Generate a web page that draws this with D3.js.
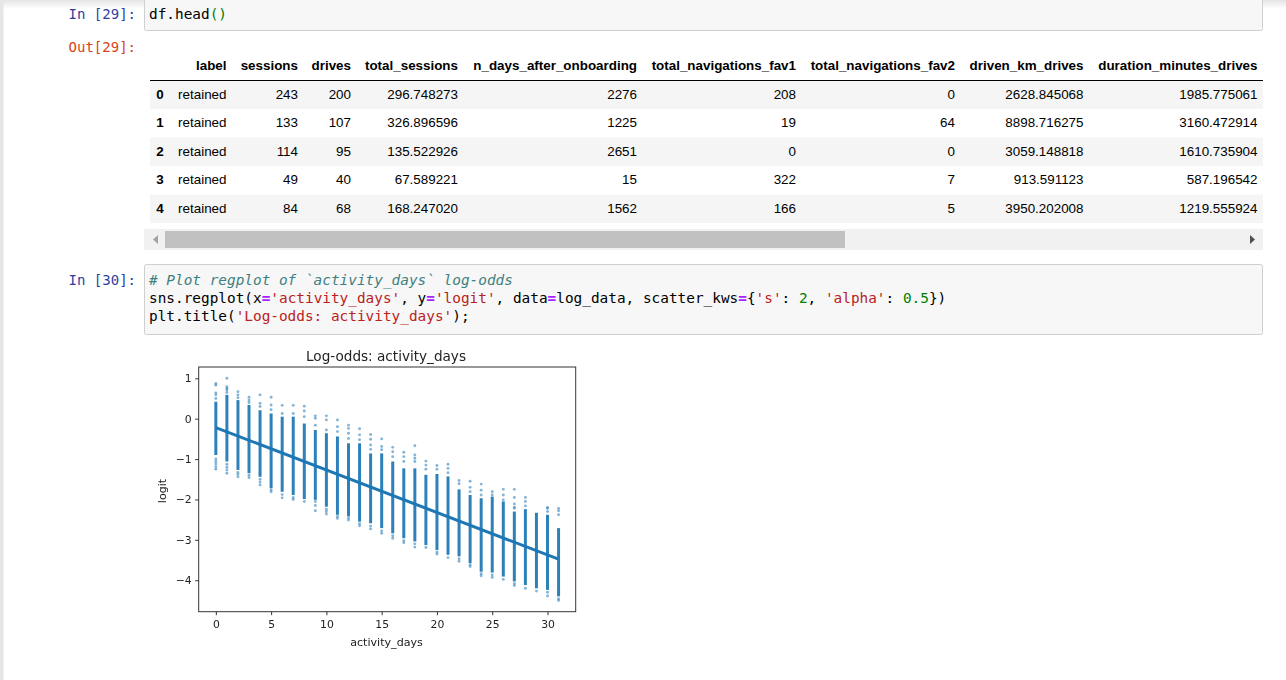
<!DOCTYPE html>
<html><head><meta charset="utf-8">
<script src="https://cdn.jsdelivr.net/npm/d3@7"></script>
<style>html,body{margin:0;padding:0;background:#fff;overflow:hidden}svg{display:block}</style>
</head><body><svg id="page" width="1286" height="680"></svg>
<script>
// ---- table data
const tableColumns=["label","sessions","drives","total_sessions","n_days_after_onboarding","total_navigations_fav1","total_navigations_fav2","driven_km_drives","duration_minutes_drives"];
const rowIndex=["0","1","2","3","4"];
const label=["retained","retained","retained","retained","retained"];
const sessions=["243","133","114","49","84"];
const drives=["200","107","95","40","68"];
const totalSessions=["296.748273","326.896596","135.522926","67.589221","168.247020"];
const nDays=["2276","1225","2651","15","1562"];
const fav1=["208","19","0","322","166"];
const fav2=["0","64","0","7","5"];
const drivenKm=["2628.845068","8898.716275","3059.148818","913.591123","3950.202008"];
const durationMin=["1985.775061","3160.472914","1610.735904","587.196542","1219.555924"];
// ---- plot data
const activityDays=d3.range(32);
const denseTop=[.42,.59,.46,.34,.21,.13,.05,.05,-.12,-.28,-.36,-.44,-.61,-.61,-.86,-.86,-1.06,-1.23,-1.23,-1.39,-1.37,-1.43,-1.75,-1.89,-1.97,-1.93,-2.05,-2.30,-2.24,-2.33,-2.38,-2.71];
const denseBottom=[-.9,-1.06,-1.27,-1.35,-1.44,-1.72,-1.81,-1.89,-1.99,-2.01,-2.18,-2.38,-2.42,-2.55,-2.59,-2.71,-2.84,-2.96,-3.04,-3.13,-3.25,-3.37,-3.41,-3.58,-3.79,-3.81,-3.91,-4.03,-4.12,-4.2,-4.24,-4.40];
const looseValues=[
 [.87,.83,.64,.59,.5,-1.0,-1.06,-1.12,-1.19,-1.25],
 [1.0,.79,.75,.71,.65,-1.13,-1.2,-1.27,-1.35],
 [.67,.59,.52,-1.33,-1.38,-1.44],
 [.53,.46,.4,-1.4,-1.46],
 [.59,.38,.3,-1.5,-1.57,-1.64],
 [.53,.34,.22,-1.76,-1.81],
 [.33,.13,-1.88,-1.96],
 [.33,.13,-1.95,-2.0],
 [.31,.19,.05,-2.05],
 [.07,.01,-.16,-2.05,-2.15,-2.28],
 [.07,-.03,-.28,-2.24,-2.3,-2.36],
 [-.03,-.20,-.32,-2.42,-2.47],
 [-.16,-.24,-.36,-.49,-2.46,-2.51],
 [-.25,-.40,-.52,-2.6,-2.65],
 [-.39,-.51,-.65,-.76,-2.66,-2.73],
 [-.50,-.69,-.77,-2.78,-2.84],
 [-.71,-.82,-.94,-2.9,-2.96],
 [-.83,-.94,-1.06,-3.02,-3.07],
 [-.67,-.90,-.98,-1.06,-3.1,-3.18],
 [-1.05,-1.15,-1.25,-3.19],
 [-1.16,-1.25,-3.3,-3.35],
 [-1.13,-1.23,-1.34,-3.44],
 [-1.53,-1.61,-3.47,-3.53],
 [-1.55,-1.70,-1.81,-3.62,-3.66],
 [-1.62,-1.77,-1.89,-3.84,-3.89],
 [-1.81,-1.89,-3.87,-3.93],
 [-1.75,-1.89,-2.01,-3.98],
 [-1.75,-1.95,-2.11,-2.19,-2.22,-4.08,-4.13],
 [-1.95,-2.05,-2.16,-4.2],
 [-4.27],
 [-2.20,-2.22,-2.3,-4.3,-4.39],
 [-2.22,-2.28,-2.38,-4.46,-4.50]
];
const fitDays=[0,31];
const fitLogit=[-.22,-3.48];
const xTicks=[0,5,10,15,20,25,30];
const yTicks=[1,0,-1,-2,-3,-4];
const chartTitle="Log-odds: activity_days", xName="activity_days", yName="logit";
// ---- code cell tokens
const C={t:"#000",k:"#AA22FF",s:"#BA2121",n:"#008000",c:"#408080",b:"#008000"};
const code1=[["df.head",C.t],["()",C.b]];
const code2=[
 [["# Plot regplot of `activity_days` log-odds",C.c,"i"]],
 [["sns.regplot(x",C.t],["=",C.k,"b"],["'activity_days'",C.s],[", y",C.t],["=",C.k,"b"],["'logit'",C.s],[", data",C.t],["=",C.k,"b"],["log_data, scatter_kws",C.t],["=",C.k,"b"],["{",C.t],["'s'",C.s],[": ",C.t],["2",C.n],[", ",C.t],["'alpha'",C.s],[": ",C.t],["0.5",C.n],["})",C.t]],
 [["plt.title(",C.t],["'Log-odds: activity_days'",C.s],[");",C.t]]
];

const svg=d3.select("#page");
const defs=svg.append("defs");
const g=defs.append("linearGradient").attr("id","sh").attr("x1",0).attr("x2",0).attr("y1",0).attr("y2",1);
g.append("stop").attr("offset",0).attr("stop-color","#e4e4e4");
g.append("stop").attr("offset",1).attr("stop-color","#fff");
defs.append("filter").attr("id","soft").attr("x","-5%").attr("y","-5%").attr("width","110%").attr("height","110%")
  .append("feGaussianBlur").attr("stdDeviation",.38);

const MONO="'DejaVu Sans Mono',monospace", SANS="'Liberation Sans',Arial,sans-serif", PLOT="'DejaVu Sans',sans-serif";
svg.append("rect").attr("width",1286).attr("height",9).attr("fill","url(#sh)");
svg.append("rect").attr("width",3.5).attr("height",680).attr("fill","#e6e6e6");

function cell(y0,y1){svg.append("rect").attr("x",144.5).attr("y",y0).attr("width",1118).attr("height",y1-y0).attr("rx",2).attr("fill","#f7f7f7").attr("stroke","#cfcfcf");}
cell(-6,30.5);cell(264.5,334.5);
function prompt(t,y,c){svg.append("text").attr("x",136).attr("y",y).attr("text-anchor","end").attr("font-family",MONO).attr("font-size",14).attr("fill",c).text(t);}
prompt("In [29]:",19,"#303f9f");prompt("Out[29]:",52,"#d84315");prompt("In [30]:",285,"#303f9f");
function codeLine(tokens,y){
  const t=svg.append("text").attr("x",149).attr("y",y).attr("font-family",MONO).attr("font-size",14.4).attr("xml:space","preserve").style("white-space","pre");
  t.selectAll("tspan").data(tokens).join("tspan").attr("fill",d=>d[1]).attr("font-style",d=>d[2]==="i"?"italic":null).attr("font-weight",d=>d[2]==="b"?"bold":null).text(d=>d[0]);
}
codeLine(code1,19);
const codeY=d3.scalePoint().domain([0,1,2]).range([285,321]);
code2.forEach((l,i)=>codeLine(l,codeY(i)));

// ---- table
const colX=d3.scaleOrdinal(tableColumns,[226.5,298,351,458,637,796,955,1083.5,1257.5]);
const rowY=d3.scaleBand().domain(rowIndex).range([80.5,223]);
const colValues=[label,sessions,drives,totalSessions,nDays,fav1,fav2,drivenKm,durationMin];
const tbl=svg.append("g").attr("font-family",SANS).attr("font-size",13.4).attr("fill","#000");
tbl.selectAll("rect.band").data(rowIndex.filter((d,i)=>i%2===0)).join("rect").attr("class","band")
  .attr("x",150).attr("width",1113).attr("y",d=>rowY(d)).attr("height",rowY.bandwidth()).attr("fill","#f5f5f5");
tbl.append("line").attr("x1",150).attr("x2",1263).attr("y1",80.5).attr("y2",80.5).attr("stroke","#000");
tbl.selectAll("text.h").data(tableColumns).join("text").attr("class","h").attr("x",d=>colX(d)).attr("y",69.5).attr("text-anchor","end").attr("font-weight","bold").text(d=>d);
tbl.selectAll("text.i").data(rowIndex).join("text").attr("class","i").attr("x",160).attr("y",d=>rowY(d)+rowY.bandwidth()/2+4).attr("text-anchor","middle").attr("font-weight","bold").text(d=>d);
colValues.forEach((vals,c)=>{
  tbl.append("g").selectAll("text").data(vals).join("text").attr("x",colX(tableColumns[c])).attr("y",(d,i)=>rowY(rowIndex[i])+rowY.bandwidth()/2+4).attr("text-anchor","end").text(d=>d);
});
// scrollbar
svg.append("rect").attr("x",144).attr("y",229).attr("width",1119).attr("height",21).attr("fill","#f1f1f1");
svg.append("rect").attr("x",165).attr("y",231).attr("width",680).attr("height",17).attr("fill","#c1c1c1");
svg.append("path").attr("d","M158 235v9l-5-4.5z").attr("fill","#a3a3a3");
svg.append("path").attr("d","M1250 235v9l5-4.5z").attr("fill","#505050");

// ---- plot
const x=d3.scaleLinear().domain([-1.55,32.55]).range([198.7,575.7]);
const y=d3.scaleLinear().domain([-4.78,1.28]).range([611.7,367]);
const plot=svg.append("g").attr("filter","url(#soft)");
const BLUE="#1f77b4";
plot.append("g").selectAll("line").data(activityDays).join("line")
  .attr("x1",d=>x(d)).attr("x2",d=>x(d)).attr("y1",d=>y(denseTop[d])).attr("y2",d=>y(denseBottom[d]))
  .attr("stroke",BLUE).attr("stroke-width",3).attr("stroke-opacity",.93);
const loose=activityDays.flatMap(d=>looseValues[d].map(v=>[d,v]));
plot.append("g").selectAll("circle").data(loose).join("circle")
  .attr("cx",d=>x(d[0])).attr("cy",d=>y(d[1])).attr("r",1.45).attr("fill",BLUE).attr("fill-opacity",.55);
plot.append("path").datum(fitDays.map((d,i)=>[d,fitLogit[i]])).attr("d",d3.line().x(d=>x(d[0])).y(d=>y(d[1])))
  .attr("fill","none").attr("stroke",BLUE).attr("stroke-width",3);
plot.append("rect").attr("x",198.7).attr("y",367).attr("width",377).attr("height",244.7).attr("fill","none").attr("stroke","#333").attr("stroke-width",1);
const fmt=d=>String(d).replace("-","\u2212");
const ax=plot.append("g").attr("transform","translate(0,611.7)").call(d3.axisBottom(x).tickValues(xTicks).tickFormat(fmt).tickSize(3.5).tickPadding(5));
const ay=plot.append("g").attr("transform","translate(198.7,0)").call(d3.axisLeft(y).tickValues(yTicks).tickFormat(fmt).tickSize(3.5).tickPadding(3.5));
[ax,ay].forEach(a=>{a.select(".domain").remove();a.selectAll("line").attr("stroke","#333");a.selectAll("text").attr("font-family",PLOT).attr("font-size",10.8).attr("fill","#222");});
plot.append("text").attr("x",386).attr("y",360.5).attr("text-anchor","middle").attr("font-family",PLOT).attr("font-size",13.6).attr("fill","#222").text(chartTitle);
plot.append("text").attr("x",386.5).attr("y",645.5).attr("text-anchor","middle").attr("font-family",PLOT).attr("font-size",11.1).attr("fill","#222").text(xName);
plot.append("text").attr("transform","translate(166,491) rotate(-90)").attr("text-anchor","middle").attr("font-family",PLOT).attr("font-size",11.1).attr("fill","#222").text(yName);
</script></body></html>
